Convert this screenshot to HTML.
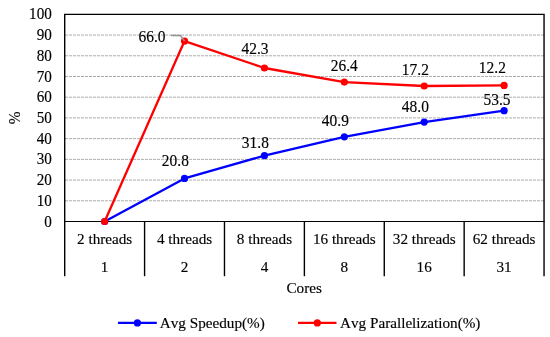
<!DOCTYPE html>
<html><head><meta charset="utf-8"><title>Chart</title><style>html,body{margin:0;padding:0;background:#fff}svg{display:block}</style></head><body>
<svg width="550" height="337" viewBox="0 0 550 337" font-family="'Liberation Serif', 'Times New Roman', serif" fill="#000" style="font-kerning:none">
<rect width="550" height="337" fill="#fff"/>
<line x1="65" x2="544.05" y1="200.78" y2="200.78" stroke="#aaaaaa" stroke-width="0.95" stroke-dasharray="3.1 0.9"/>
<line x1="65" x2="544.05" y1="180.07" y2="180.07" stroke="#aaaaaa" stroke-width="0.95" stroke-dasharray="3.1 0.9"/>
<line x1="65" x2="544.05" y1="159.35" y2="159.35" stroke="#aaaaaa" stroke-width="0.95" stroke-dasharray="3.1 0.9"/>
<line x1="65" x2="544.05" y1="138.64" y2="138.64" stroke="#aaaaaa" stroke-width="0.95" stroke-dasharray="3.1 0.9"/>
<line x1="65" x2="544.05" y1="117.92" y2="117.92" stroke="#aaaaaa" stroke-width="0.95" stroke-dasharray="3.1 0.9"/>
<line x1="65" x2="544.05" y1="97.21" y2="97.21" stroke="#aaaaaa" stroke-width="0.95" stroke-dasharray="3.1 0.9"/>
<line x1="65" x2="544.05" y1="76.50" y2="76.50" stroke="#aaaaaa" stroke-width="0.95" stroke-dasharray="3.1 0.9"/>
<line x1="65" x2="544.05" y1="55.78" y2="55.78" stroke="#aaaaaa" stroke-width="0.95" stroke-dasharray="3.1 0.9"/>
<line x1="65" x2="544.05" y1="35.06" y2="35.06" stroke="#aaaaaa" stroke-width="0.95" stroke-dasharray="3.1 0.9"/>
<polyline points="64.7,221.5 64.7,14.35 544.05,14.35 544.05,221.5" fill="none" stroke="#000" stroke-width="1.4" stroke-linejoin="miter"/>
<line x1="64.0" x2="544.75" y1="221.5" y2="221.5" stroke="#000" stroke-width="1.05"/>
<line x1="64.70" x2="64.70" y1="221.5" y2="276.2" stroke="#000" stroke-width="1.4"/>
<line x1="144.59" x2="144.59" y1="221.5" y2="276.2" stroke="#000" stroke-width="1.4"/>
<line x1="224.48" x2="224.48" y1="221.5" y2="276.2" stroke="#000" stroke-width="1.4"/>
<line x1="304.38" x2="304.38" y1="221.5" y2="276.2" stroke="#000" stroke-width="1.4"/>
<line x1="384.27" x2="384.27" y1="221.5" y2="276.2" stroke="#000" stroke-width="1.4"/>
<line x1="464.16" x2="464.16" y1="221.5" y2="276.2" stroke="#000" stroke-width="1.4"/>
<line x1="544.05" x2="544.05" y1="221.5" y2="276.2" stroke="#000" stroke-width="1.4"/>
<text transform="translate(51.80,226.60) scale(0.965,1)" font-size="15.7" text-anchor="end" stroke="#000" stroke-width="0.15">0</text>
<text transform="translate(51.80,205.88) scale(0.965,1)" font-size="15.7" text-anchor="end" stroke="#000" stroke-width="0.15">10</text>
<text transform="translate(51.80,185.17) scale(0.965,1)" font-size="15.7" text-anchor="end" stroke="#000" stroke-width="0.15">20</text>
<text transform="translate(51.80,164.45) scale(0.965,1)" font-size="15.7" text-anchor="end" stroke="#000" stroke-width="0.15">30</text>
<text transform="translate(51.80,143.74) scale(0.965,1)" font-size="15.7" text-anchor="end" stroke="#000" stroke-width="0.15">40</text>
<text transform="translate(51.80,123.02) scale(0.965,1)" font-size="15.7" text-anchor="end" stroke="#000" stroke-width="0.15">50</text>
<text transform="translate(51.80,102.31) scale(0.965,1)" font-size="15.7" text-anchor="end" stroke="#000" stroke-width="0.15">60</text>
<text transform="translate(51.80,81.59) scale(0.965,1)" font-size="15.7" text-anchor="end" stroke="#000" stroke-width="0.15">70</text>
<text transform="translate(51.80,60.88) scale(0.965,1)" font-size="15.7" text-anchor="end" stroke="#000" stroke-width="0.15">80</text>
<text transform="translate(51.80,40.16) scale(0.965,1)" font-size="15.7" text-anchor="end" stroke="#000" stroke-width="0.15">90</text>
<text transform="translate(51.80,19.45) scale(0.965,1)" font-size="15.7" text-anchor="end" stroke="#000" stroke-width="0.15">100</text>
<text transform="translate(20.20,117.80) rotate(-90) scale(0.955,1)" font-size="16" text-anchor="middle" stroke="#000" stroke-width="0.15">%</text>
<polyline points="104.65,221.50 184.54,178.41 264.43,155.63 344.32,136.78 424.21,122.07 504.10,110.67" fill="none" stroke="#0000ff" stroke-width="2.3" stroke-linejoin="round"/>
<circle cx="104.65" cy="221.50" r="3.6" fill="#0000ff"/>
<circle cx="184.54" cy="178.41" r="3.6" fill="#0000ff"/>
<circle cx="264.43" cy="155.63" r="3.6" fill="#0000ff"/>
<circle cx="344.32" cy="136.78" r="3.6" fill="#0000ff"/>
<circle cx="424.21" cy="122.07" r="3.6" fill="#0000ff"/>
<circle cx="504.10" cy="110.67" r="3.6" fill="#0000ff"/>
<polyline points="104.65,221.50 184.54,41.07 264.43,68.00 344.32,82.09 424.21,86.02 504.10,85.40" fill="none" stroke="#ff0000" stroke-width="2.3" stroke-linejoin="round"/>
<circle cx="104.65" cy="221.50" r="3.6" fill="#ff0000"/>
<circle cx="184.54" cy="41.07" r="3.6" fill="#ff0000"/>
<circle cx="264.43" cy="68.00" r="3.6" fill="#ff0000"/>
<circle cx="344.32" cy="82.09" r="3.6" fill="#ff0000"/>
<circle cx="424.21" cy="86.02" r="3.6" fill="#ff0000"/>
<circle cx="504.10" cy="85.40" r="3.6" fill="#ff0000"/>
<polyline points="171,35.5 180.2,35.5 184.6,41" fill="none" stroke="#929292" stroke-width="1.35"/>
<text transform="translate(165.60,41.80) scale(0.985,1)" font-size="15.7" text-anchor="end" stroke="#000" stroke-width="0.15">66.0</text>
<text transform="translate(188.90,165.80) scale(0.985,1)" font-size="15.7" text-anchor="end" stroke="#000" stroke-width="0.15">20.8</text>
<text transform="translate(268.50,53.60) scale(0.985,1)" font-size="15.7" text-anchor="end" stroke="#000" stroke-width="0.15">42.3</text>
<text transform="translate(268.90,148.00) scale(0.985,1)" font-size="15.7" text-anchor="end" stroke="#000" stroke-width="0.15">31.8</text>
<text transform="translate(357.80,71.00) scale(0.985,1)" font-size="15.7" text-anchor="end" stroke="#000" stroke-width="0.15">26.4</text>
<text transform="translate(348.90,126.40) scale(0.985,1)" font-size="15.7" text-anchor="end" stroke="#000" stroke-width="0.15">40.9</text>
<text transform="translate(428.90,75.20) scale(0.985,1)" font-size="15.7" text-anchor="end" stroke="#000" stroke-width="0.15">17.2</text>
<text transform="translate(428.90,111.80) scale(0.985,1)" font-size="15.7" text-anchor="end" stroke="#000" stroke-width="0.15">48.0</text>
<text transform="translate(505.90,72.80) scale(0.985,1)" font-size="15.7" text-anchor="end" stroke="#000" stroke-width="0.15">12.2</text>
<text transform="translate(510.50,105.00) scale(0.985,1)" font-size="15.7" text-anchor="end" stroke="#000" stroke-width="0.15">53.5</text>
<text transform="translate(104.65,244.00)" font-size="15.2" text-anchor="middle" stroke="#000" stroke-width="0.15">2 threads</text>
<text transform="translate(104.65,271.70)" font-size="15.2" text-anchor="middle" stroke="#000" stroke-width="0.15">1</text>
<text transform="translate(184.54,244.00)" font-size="15.2" text-anchor="middle" stroke="#000" stroke-width="0.15">4 threads</text>
<text transform="translate(184.54,271.70)" font-size="15.2" text-anchor="middle" stroke="#000" stroke-width="0.15">2</text>
<text transform="translate(264.43,244.00)" font-size="15.2" text-anchor="middle" stroke="#000" stroke-width="0.15">8 threads</text>
<text transform="translate(264.43,271.70)" font-size="15.2" text-anchor="middle" stroke="#000" stroke-width="0.15">4</text>
<text transform="translate(344.32,244.00)" font-size="15.2" text-anchor="middle" stroke="#000" stroke-width="0.15">16 threads</text>
<text transform="translate(344.32,271.70)" font-size="15.2" text-anchor="middle" stroke="#000" stroke-width="0.15">8</text>
<text transform="translate(424.21,244.00)" font-size="15.2" text-anchor="middle" stroke="#000" stroke-width="0.15">32 threads</text>
<text transform="translate(424.21,271.70)" font-size="15.2" text-anchor="middle" stroke="#000" stroke-width="0.15">16</text>
<text transform="translate(504.10,244.00)" font-size="15.2" text-anchor="middle" stroke="#000" stroke-width="0.15">62 threads</text>
<text transform="translate(504.10,271.70)" font-size="15.2" text-anchor="middle" stroke="#000" stroke-width="0.15">31</text>
<text transform="translate(304.20,293.20)" font-size="15.2" text-anchor="middle" stroke="#000" stroke-width="0.15">Cores</text>
<line x1="118" x2="156.8" y1="322.9" y2="322.9" stroke="#0000ff" stroke-width="2.3"/><circle cx="137.4" cy="322.9" r="3.6" fill="#0000ff"/>
<text transform="translate(159.80,327.90)" font-size="15.2" text-anchor="start" stroke="#000" stroke-width="0.15">Avg Speedup(%)</text>
<line x1="298" x2="336.5" y1="322.9" y2="322.9" stroke="#ff0000" stroke-width="2.3"/><circle cx="317.3" cy="322.9" r="3.6" fill="#ff0000"/>
<text transform="translate(340.00,327.80)" font-size="15.2" text-anchor="start" stroke="#000" stroke-width="0.15">Avg Parallelization(%)</text>
</svg>
</body></html>
